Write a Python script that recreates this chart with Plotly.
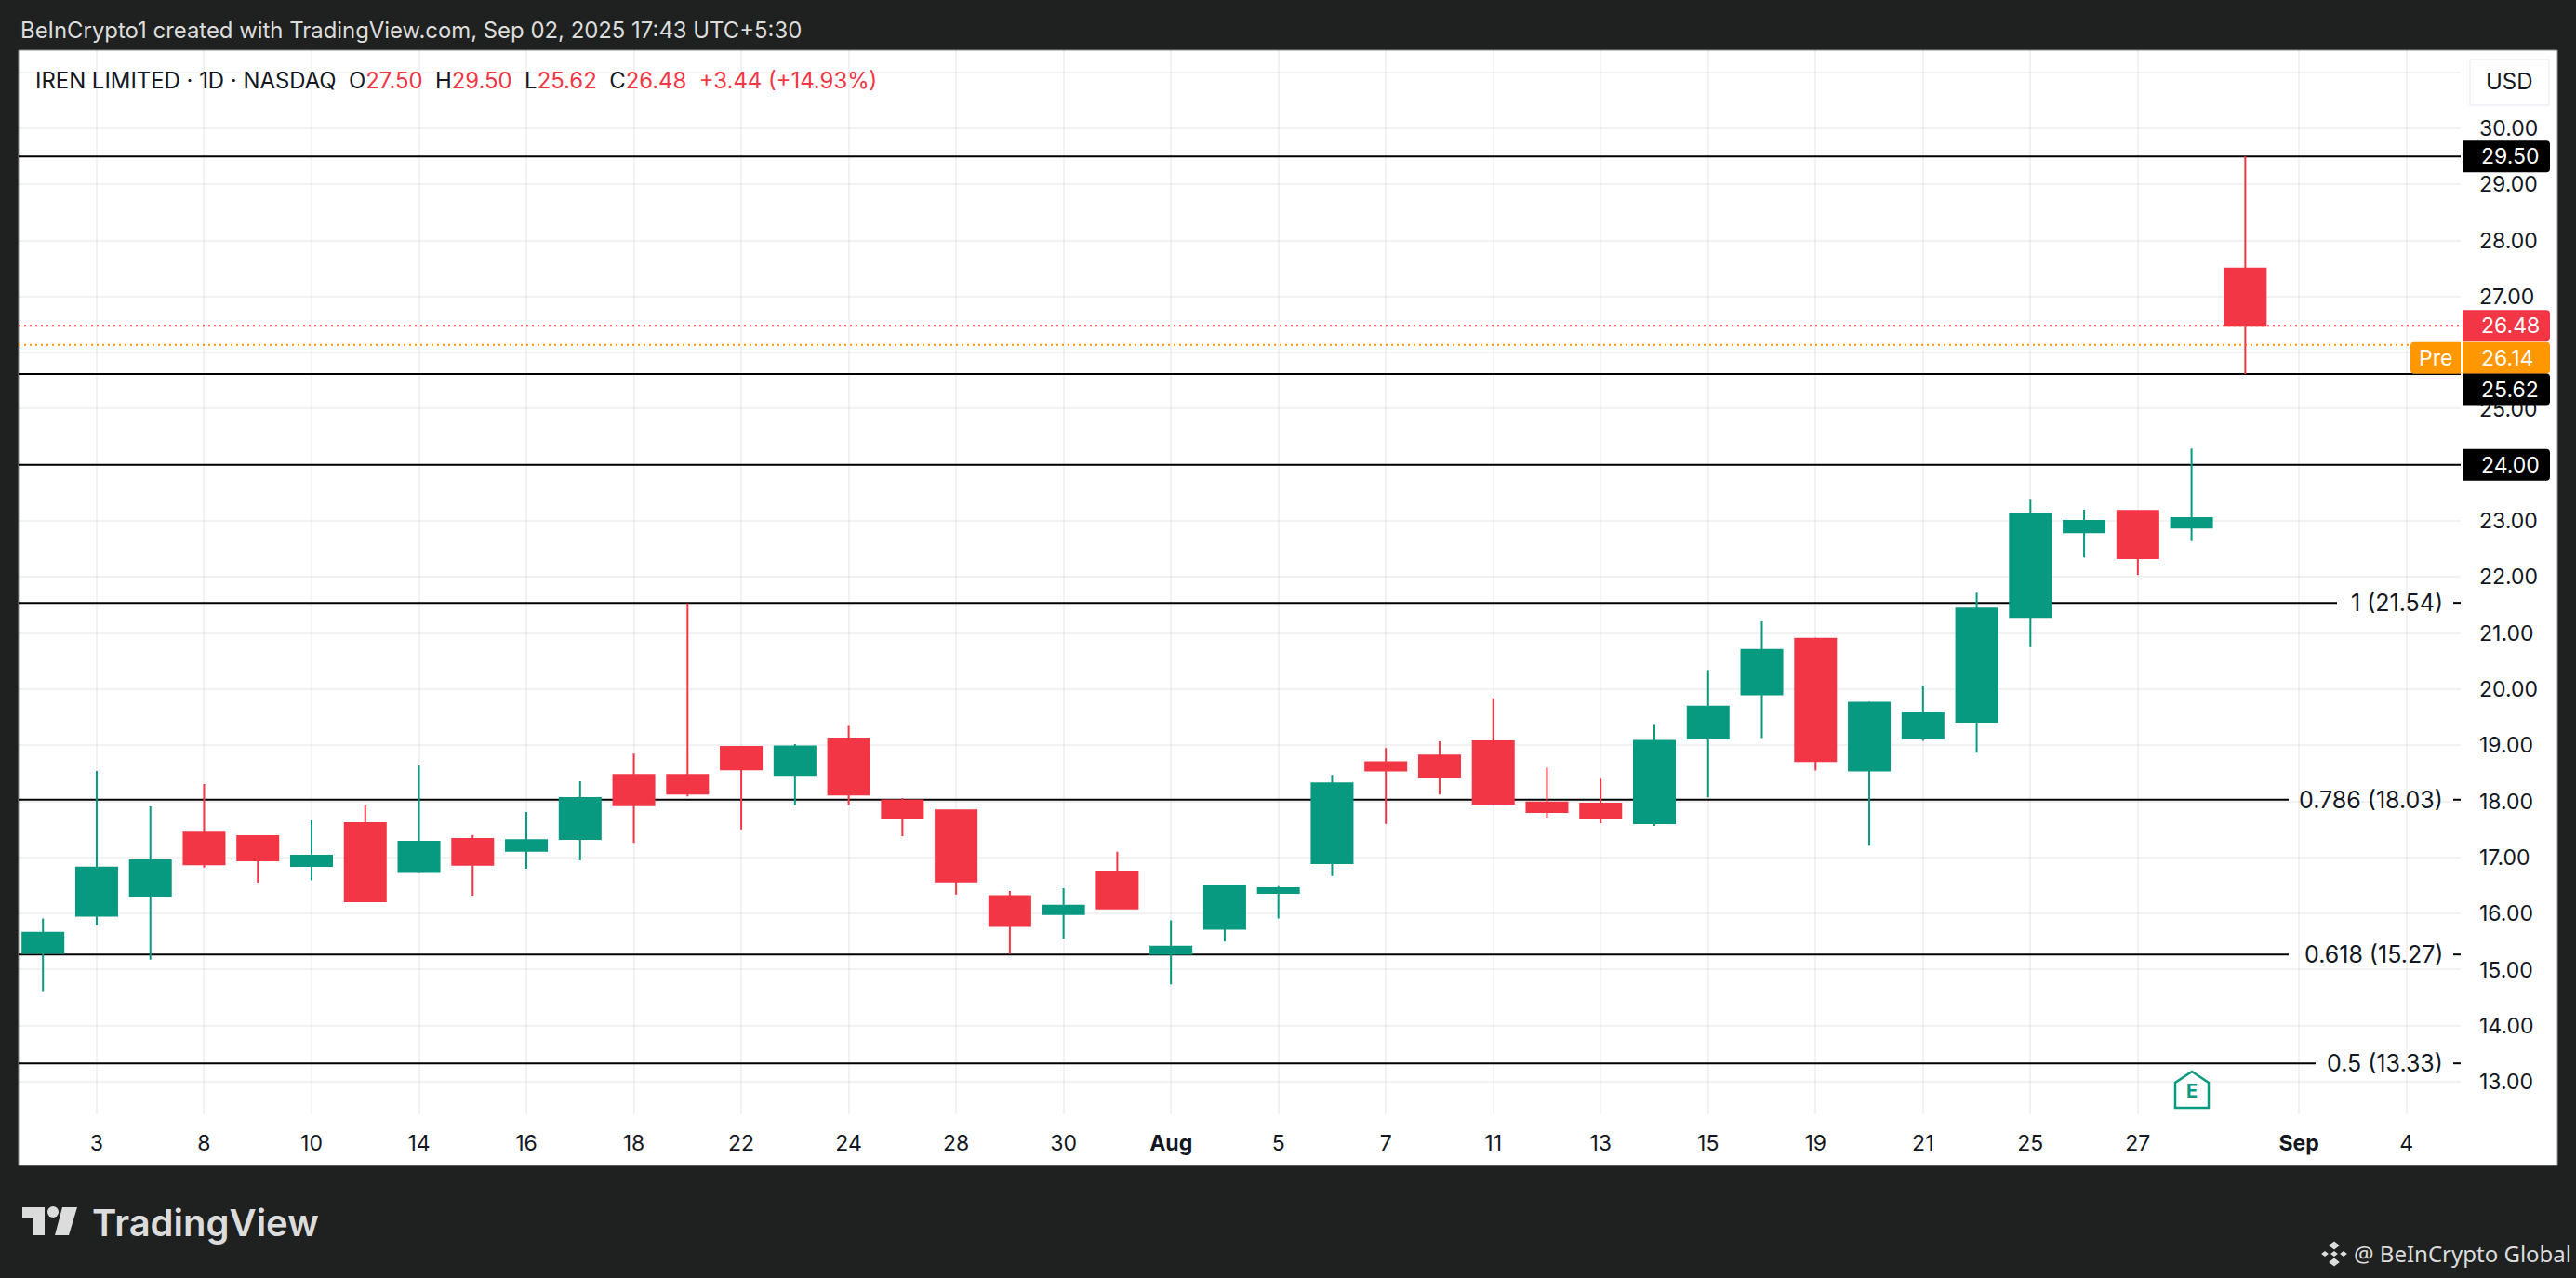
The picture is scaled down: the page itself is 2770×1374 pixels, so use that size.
import plotly.graph_objects as go

# ---------- data ----------
dates = ["2025-07-02","2025-07-03","2025-07-07","2025-07-08","2025-07-09","2025-07-10","2025-07-11",
         "2025-07-14","2025-07-15","2025-07-16","2025-07-17","2025-07-18",
         "2025-07-21","2025-07-22","2025-07-23","2025-07-24","2025-07-25",
         "2025-07-28","2025-07-29","2025-07-30","2025-07-31","2025-08-01",
         "2025-08-04","2025-08-05","2025-08-06","2025-08-07","2025-08-08",
         "2025-08-11","2025-08-12","2025-08-13","2025-08-14","2025-08-15",
         "2025-08-18","2025-08-19","2025-08-20","2025-08-21","2025-08-22",
         "2025-08-25","2025-08-26","2025-08-27","2025-08-28","2025-08-29"]
future_dates = ["2025-09-02","2025-09-03","2025-09-04","2025-09-05"]
opens = [15.30,15.96,16.32,17.46,17.38,16.85,17.61,16.74,17.33,17.12,17.33,18.47,
         18.47,18.97,18.47,19.12,18.02,17.84,16.31,15.99,16.75,15.28,
         15.73,16.37,16.90,18.70,18.82,19.07,17.98,17.96,17.61,19.12,19.91,20.90,18.55,19.12,19.42,
         21.29,22.80,23.18,22.88,27.50]
highs = [15.91,18.54,17.91,18.31,17.38,17.66,17.93,18.64,17.40,17.81,18.36,18.85,
         21.53,18.97,19.02,19.36,18.06,17.84,16.40,16.45,17.10,15.88,
         16.49,16.49,18.47,18.95,19.07,19.84,18.60,18.42,19.38,20.34,21.21,20.92,19.78,20.06,21.72,
         23.38,23.20,23.18,24.29,29.50]
lows = [14.62,15.79,15.18,16.82,16.55,16.59,16.22,16.72,16.32,16.80,16.95,17.26,
        18.09,17.50,17.93,17.93,17.38,16.34,15.28,15.55,16.09,14.74,
        15.50,15.91,16.67,17.60,18.12,17.94,17.71,17.61,17.56,18.07,19.13,18.55,17.21,19.08,18.87,
        20.75,22.35,22.04,22.64,25.62]
closes = [15.66,16.82,16.95,16.88,16.95,17.03,16.22,17.28,16.87,17.31,18.06,17.93,
          18.14,18.57,18.98,18.12,17.71,16.57,15.78,16.14,16.09,15.41,
          16.49,16.45,18.32,18.55,18.44,17.96,17.81,17.71,19.08,19.69,20.70,18.72,19.76,19.58,21.44,
          23.13,23.00,22.34,23.05,26.48]

x_tick_dates = ["2025-07-03","2025-07-08","2025-07-10","2025-07-14","2025-07-16","2025-07-18",
                "2025-07-22","2025-07-24","2025-07-28","2025-07-30","2025-08-01","2025-08-05",
                "2025-08-07","2025-08-11","2025-08-13","2025-08-15","2025-08-19","2025-08-21",
                "2025-08-25","2025-08-27","2025-09-02","2025-09-04"]
x_tick_labels = ["3","8","10","14","16","18","22","24","28","30","<b>Aug</b>","5","7","11","13","15",
                 "19","21","25","27","<b>Sep</b>","4"]
y_ticks = [13,14,15,16,17,18,19,20,21,22,23,24,25,26,27,28,29,30,31]
y_labels = ["13.00","14.00","15.00","16.00","17.00","18.00","19.00","20.00","21.00","22.00","23.00","",
            "25.00","","27.00","28.00","29.00","30.00",""]

plain_levels = [29.50, 25.62, 24.00]
fib_levels = [21.54, 18.03, 15.27, 13.33]
fib_names = ["1 (21.54)", "0.786 (18.03)", "0.618 (15.27)", "0.5 (13.33)"]
last_close = 26.48
pre_price = 26.14
earnings_date = "2025-08-28"

# ---------- layout geometry (window pixels) ----------
W, H = 2770, 1374
L, R, T, B = 20, 2646, 54, 1198
PANEL_R, PANEL_B = 2750, 1253
BAR0, STEP = 46.2, 57.76
Y_TOP, Y_BOT = 31.393, 12.421
INK, RED, GREEN, ORANGE = "#131722", "#f23645", "#089981", "#ff9800"
DARK, FOOT = "#1e2120", "#dcdcdc"
FONT = "Inter"

px = lambda x: (x - L) / (R - L)
py = lambda y: 1 - (y - T) / (B - T)
bar = lambda x: (x - BAR0) / STEP
bar_l, bar_r = bar(L), bar(R)

shapes, annos = [], []


def note(**kw):
    kw.setdefault("showarrow", False)
    kw.setdefault("xanchor", "center")
    kw.setdefault("yanchor", "middle")
    annos.append(kw)


# dark page / white panel
shapes.append(dict(type="rect", xref="paper", yref="paper", x0=px(L), x1=px(PANEL_R), y0=py(T), y1=py(PANEL_B),
                   fillcolor="white", line=dict(color="#8f8f8f", width=1), layer="below"))

# level lines
for v in plain_levels:
    shapes.append(dict(type="line", xref="x", yref="y", x0=bar_l, x1=bar_r, y0=v, y1=v,
                       line=dict(color="black", width=2), layer="below"))
fib_ends = [2513, 2461, 2461, 2490]
for v, e, name in zip(fib_levels, fib_ends, fib_names):
    shapes.append(dict(type="line", xref="x", yref="y", x0=bar_l, x1=bar(e), y0=v, y1=v,
                       line=dict(color="black", width=2), layer="below"))
    shapes.append(dict(type="line", xref="x", yref="y", x0=bar(2638), x1=bar_r, y0=v, y1=v,
                       line=dict(color="black", width=2), layer="below"))
    note(xref="paper", yref="y", x=px(2629), y=v, text=name, xanchor="right",
         font=dict(family=FONT, size=25, color=INK))

# price lines
shapes.append(dict(type="line", xref="x", yref="y", x0=bar_l, x1=bar_r, y0=last_close, y1=last_close,
                   line=dict(color=RED, width=2, dash="2px,4px"), layer="below"))
shapes.append(dict(type="line", xref="x", yref="y", x0=bar_l, x1=bar(2592), y0=pre_price, y1=pre_price,
                   line=dict(color=ORANGE, width=2, dash="2px,4px"), layer="below"))


def tag_path(x0, x1, cy, h=34, rl=0, rr=4):
    yt, yb = cy + h / 2, cy - h / 2
    return (f"M{x0 + rl},{yt} L{x1 - rr},{yt} Q{x1},{yt} {x1},{yt - rr} L{x1},{yb + rr} Q{x1},{yb} {x1 - rr},{yb} "
            f"L{x0 + rl},{yb} Q{x0},{yb} {x0},{yb + rl} L{x0},{yt - rl} Q{x0},{yt} {x0 + rl},{yt} Z")


def tag(level, shift, fill, text, x0=2648, x1=2742, rl=0, rr=4, tx=2666, anchor="left"):
    shapes.append(dict(type="path", xref="paper", yref="y", xsizemode="pixel", ysizemode="pixel",
                       xanchor=0, yanchor=level, path=tag_path(x0 - L, x1 - L, shift, rl=rl, rr=rr),
                       fillcolor=fill, line=dict(width=0), layer="above"))
    note(xref="paper", yref="y", x=px(tx), y=level, yshift=shift, text=text, xanchor=anchor,
         font=dict(family=FONT, size=23, color="white"))


tag(29.50, 0, "black", "29.50")
tag(24.00, 0, "black", "24.00")
tag(last_close, 0, RED, "26.48")
tag(pre_price, -14, ORANGE, "26.14")
tag(25.62, -16.5, "black", "25.62")
tag(pre_price, -14, ORANGE, "Pre", x0=2592, x1=2646, rl=4, rr=0, tx=2619, anchor="center")

# USD button
shapes.append(dict(type="path", xref="paper", yref="paper", layer="above",
                   path="M {0},{2} L {1},{2} L {1},{3} L {0},{3} Z".format(px(2656), px(2741), py(64), py(113)),
                   fillcolor="white", line=dict(color="#eef0f3", width=1.5)))
note(xref="paper", yref="paper", x=px(2698), y=py(87), text="USD", font=dict(family=FONT, size=24, color=INK))

# earnings marker
ex = 2357
epts = [(ex, 1152), (ex + 18, 1164), (ex + 18, 1191), (ex - 18, 1191), (ex - 18, 1164)]
shapes.append(dict(type="path", xref="paper", yref="paper", layer="above",
                   path="M" + " L".join(f"{px(a)},{py(b)}" for a, b in epts) + " Z",
                   fillcolor="white", line=dict(color=GREEN, width=2.5)))
note(xref="x", yref="paper", x=earnings_date, y=py(1173), text="<b>E</b>",
     font=dict(family=FONT, size=20, color=GREEN))

# header texts
note(xref="paper", yref="paper", x=px(20), y=py(32), xanchor="left",
     text="BeInCrypto1 created with TradingView.com, Sep 02, 2025 17:43 UTC+5:30",
     font=dict(family=FONT, size=23.9, color=FOOT))


def red(t):
    return f'<span style="color:{RED}">{t}</span>'


legend = ("IREN LIMITED · 1D · NASDAQ\u00a0\u00a0O" + red("27.50") + "\u00a0\u00a0H" + red("29.50")
          + "\u00a0\u00a0L" + red("25.62") + "\u00a0\u00a0C" + red("26.48") + "\u00a0\u00a0" + red("+3.44 (+14.93%)"))
note(xref="paper", yref="paper", x=px(36), y=py(86), xanchor="left", text=legend,
     font=dict(family=FONT, size=23.9, color=INK))


# TradingView logo
def poly(pts, color=FOOT):
    shapes.append(dict(type="path", xref="paper", yref="paper", layer="above", fillcolor=color, line=dict(width=0),
                       path="M" + " L".join(f"{px(a)},{py(b)}" for a, b in pts) + " Z"))


poly([(24, 1298), (48, 1298), (48, 1328), (36, 1328), (36, 1310), (24, 1310)])
poly([(67, 1298), (83, 1298), (74, 1328), (59, 1328)])
shapes.append(dict(type="circle", xref="paper", yref="paper", layer="above", fillcolor=FOOT, line=dict(width=0),
                   x0=px(51), x1=px(63), y0=py(1309), y1=py(1297)))
note(xref="paper", yref="paper", x=px(97), y=py(1314), xanchor="left",
     text="TradingView", font=dict(family=FONT, size=40, color=FOOT, weight=600))

# BeInCrypto footer
for cx, cy, r in [(2510, 1339, 4.5), (2510, 1357, 4.5), (2500, 1348, 3), (2520, 1348, 3), (2510, 1348, 3)]:
    poly([(cx, cy - r), (cx + r * 1.3, cy), (cx, cy + r), (cx - r * 1.3, cy)])
note(xref="paper", yref="paper", x=px(2529), y=py(1347), xanchor="left",
     text="@ BeInCrypto Global", font=dict(family="Noto Sans", size=24, color=FOOT))

fig = go.Figure(go.Candlestick(
    x=dates, open=opens, high=highs, low=lows, close=closes,
    increasing=dict(line=dict(color=GREEN, width=2), fillcolor=GREEN),
    decreasing=dict(line=dict(color=RED, width=2), fillcolor=RED),
    whiskerwidth=0, showlegend=False))

GRID = "rgba(0,0,0,0.05)"
fig.update_layout(
    width=W, height=H, autosize=False,
    margin=dict(l=L, r=W - R, t=T, b=H - B, pad=0),
    paper_bgcolor=DARK, plot_bgcolor="rgba(0,0,0,0)",
    showlegend=False, boxgap=0.238, boxgroupgap=0,
    font=dict(family=FONT, color=INK),
    shapes=shapes, annotations=annos,
    xaxis=dict(type="category", categoryorder="array", categoryarray=dates + future_dates,
               range=[bar_l, bar_r], tickmode="array", tickvals=x_tick_dates, ticktext=x_tick_labels,
               tickangle=0, ticks="", ticklabelstandoff=15, showgrid=True, gridcolor=GRID, gridwidth=1.5,
               zeroline=False, showline=False, rangeslider=dict(visible=False),
               tickfont=dict(family=FONT, size=23, color=INK)),
    yaxis=dict(side="right", range=[Y_BOT, Y_TOP], tickmode="array", tickvals=y_ticks, ticktext=y_labels,
               ticks="", ticklabelstandoff=19, showgrid=True, gridcolor=GRID, gridwidth=2,
               zeroline=False, showline=False,
               tickfont=dict(family=FONT, size=23, color=INK)),
)

fig.write_html("out.html", config=dict(displayModeBar=False, responsive=False),
               post_script="document.body.style.margin='0';document.body.style.overflow='hidden';")
